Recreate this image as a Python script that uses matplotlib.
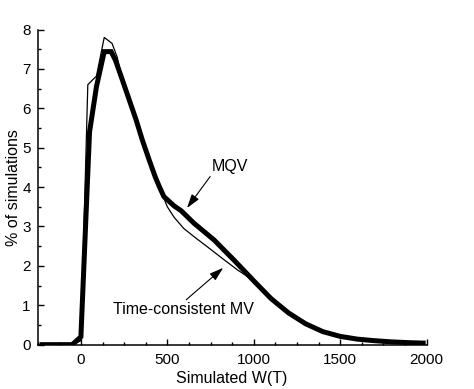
######################## librerias ########################
import matplotlib
matplotlib.use('Agg')
import matplotlib.pyplot as plt
from matplotlib.ticker import MultipleLocator
###########################################################

plt.rcParams['font.family'] = ['Liberation Sans', 'DejaVu Sans']

##################Datos###############################################
# linea gruesa (MQV)
mqv_x = [-225, -50, 0, 50, 90, 135, 175, 200, 240, 280, 320, 355, 395, 430, 455, 480,
         540, 580, 655, 770, 885, 1000, 1100, 1200, 1300, 1400, 1500, 1600, 1700, 1800, 1900, 1980]
mqv_y = [0, 0, 0.2, 5.4, 6.55, 7.44, 7.44, 7.22, 6.72, 6.21, 5.70, 5.20, 4.69, 4.26, 4.0, 3.76,
         3.52, 3.40, 3.08, 2.66, 2.15, 1.62, 1.17, 0.81, 0.53, 0.33, 0.21, 0.14, 0.10, 0.07, 0.05, 0.04]

# linea delgada (Time-consistent MV)
mv_x = [-225, -50, 0, 40, 90, 135, 180, 210, 240, 280, 320, 355, 395, 430, 455, 480,
        500, 540, 595, 655, 730, 830, 905, 960, 1000, 1100, 1200, 1300, 1400, 1500, 1600, 1700, 1800, 1900, 1980]
mv_y = [0, 0, 0.1, 6.6, 6.82, 7.8, 7.65, 7.3, 6.72, 6.21, 5.70, 5.20, 4.69, 4.26, 4.0, 3.72,
        3.5, 3.23, 2.95, 2.74, 2.49, 2.15, 1.90, 1.74, 1.60, 1.15, 0.80, 0.52, 0.32, 0.20, 0.13, 0.09, 0.07, 0.05, 0.04]

x_ticks = [0, 500, 1000, 1500, 2000]
y_ticks = [0, 1, 2, 3, 4, 5, 6, 7, 8]
######################################################################

fig = plt.figure(figsize=(4.74, 3.89), dpi=100)
ax = fig.add_axes([0.0795, 0.114, 0.8205, 0.81])

ax.plot(mqv_x, mqv_y, color='black', lw=3.6, solid_joinstyle='miter', zorder=2)
ax.plot(mv_x, mv_y, color='black', lw=0.9, zorder=3)

##################ejes##########################
ax.set_xlim(-250, 2000)
ax.set_ylim(0, 8)
ax.set_xticks(x_ticks)
ax.set_yticks(y_ticks)
ax.xaxis.set_minor_locator(MultipleLocator(125))
ax.yaxis.set_minor_locator(MultipleLocator(0.5))
ax.tick_params(which='major', direction='in', length=4, width=1, labelsize=11, pad=6)
ax.tick_params(axis='y', which='major', pad=5)
ax.tick_params(which='minor', direction='in', length=2.5, width=1)
ax.spines['top'].set_visible(False)
ax.spines['right'].set_visible(False)
ax.spines['left'].set_linewidth(1.1)
ax.spines['bottom'].set_linewidth(1.1)

ax.set_xlabel('Simulated W(T)', fontsize=11.5, labelpad=3)
ax.set_ylabel('% of simulations', fontsize=11.5, labelpad=1)

##################anotaciones##########################
flecha = dict(arrowstyle='-|>,head_length=0.7,head_width=0.22', color='black', lw=0.8,
              mutation_scale=12, shrinkA=0, shrinkB=0)
ax.annotate('MQV', xy=(614, 3.47), xytext=(865, 4.53), fontsize=11.5,
            ha='center', va='center', arrowprops=dict(flecha, relpos=(0.0, 0.0)))
ax.annotate('Time-consistent MV', xy=(823, 1.95), xytext=(591, 0.88), fontsize=11.5,
            ha='center', va='center', arrowprops=dict(flecha, relpos=(0.5, 1.0)))

fig.savefig('out.png', dpi=100)
